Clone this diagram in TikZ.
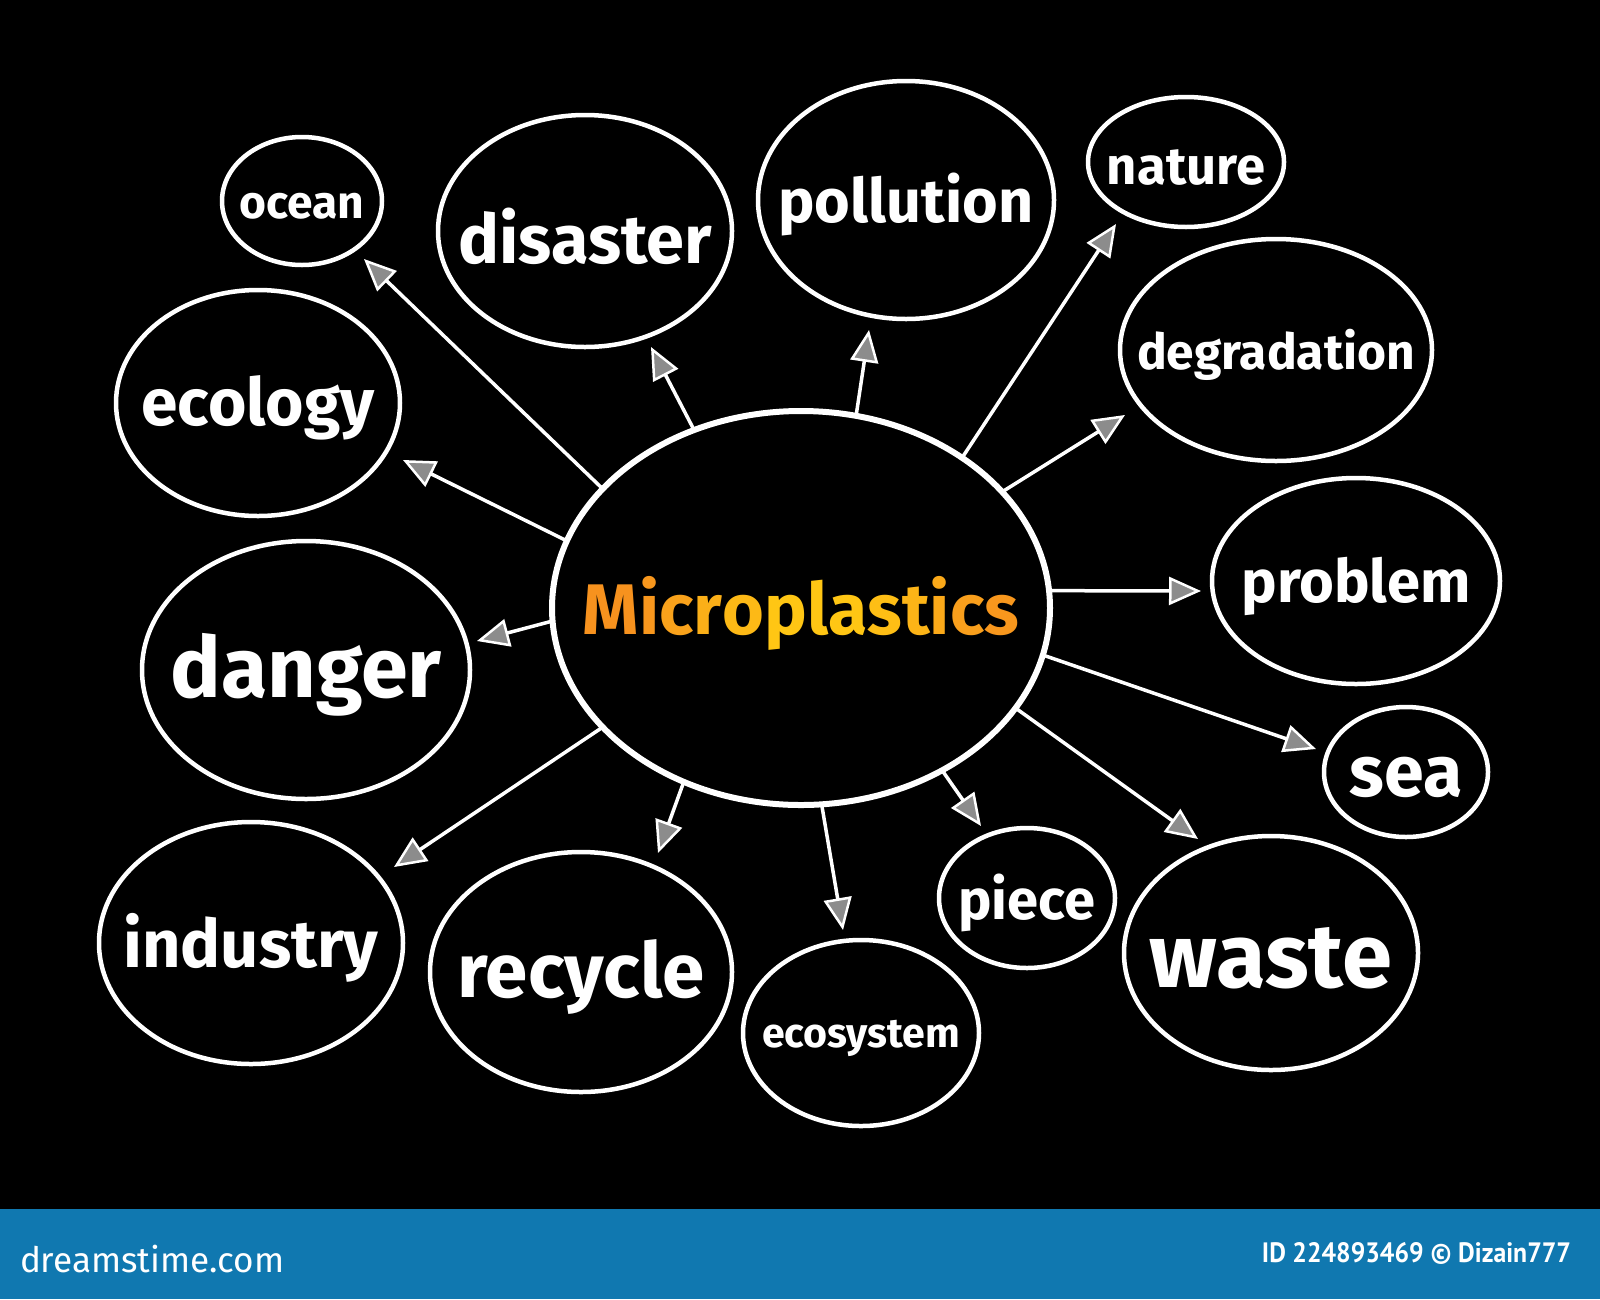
\documentclass[tikz,border=0pt]{standalone}
\usepackage{fontspec}
\usepackage{graphicx}
\setmainfont{Fira Sans}
\newfontfamily\footfont{PT Sans}
\usetikzlibrary{shapes.geometric,arrows.meta}
\definecolor{bar}{RGB}{16,120,176}
\definecolor{orA}{RGB}{247,146,30}
\definecolor{orB}{RGB}{255,198,20}
\newcommand\wordbox[2]{\resizebox{#1pt}{!}{\bfseries #2}}
\tikzset{
  bubble/.style={ellipse, draw=white, line width=4.5pt, fill=black, inner sep=0pt, outer sep=0pt},
  word/.style={text=white, inner sep=0pt, outer sep=0pt, yshift=-5pt},
  hub/.style={ellipse, draw=white, line width=6pt, fill=black, inner sep=0pt, outer sep=0pt, minimum width=498pt, minimum height=394pt},
  link/.style={draw=white, line width=3.5pt, line cap=round,
    -{Triangle[length=32pt,width=28pt,fill=black!45,color=white,line width=2.5pt]}},
  foot/.style={text=white, inner sep=0pt, outer sep=0pt}
}
\begin{document}
\begin{tikzpicture}[x=1pt,y=-1pt]
\useasboundingbox (0,0) rectangle (1600,1299);
\fill[black] (0,0) rectangle (1600,1209);
\fill[bar] (0,1209) rectangle (1600,1299);

% hub
\node[hub, label={[word]center:{\resizebox{436pt}{!}{\bfseries
  \textcolor{orA}{M}\textcolor{orA!90!orB}{i}\textcolor{orA!70!orB}{c}\textcolor{orA!45!orB}{r}\textcolor{orA!25!orB}{o}\textcolor{orB}{p}\textcolor{orB}{l}\textcolor{orB}{a}\textcolor{orA!15!orB}{s}\textcolor{orA!35!orB}{t}\textcolor{orA!55!orB}{i}\textcolor{orA!75!orB}{c}\textcolor{orA!90!orB}{s}}}}] (mp) at (801,608) {};

% bubbles
\node[bubble, minimum width=160pt, minimum height=128pt, label={[word]center:\wordbox{125}{ocean}}] (ocean) at (302,201) {};
\node[bubble, minimum width=294pt, minimum height=232pt, label={[word]center:\wordbox{253}{disaster}}] (disaster) at (585,231) {};
\node[bubble, minimum width=296pt, minimum height=238pt, label={[word]center:\wordbox{255}{pollution}}] (pollution) at (906,200) {};
\node[bubble, minimum width=196pt, minimum height=130pt, label={[word]center:\wordbox{158}{nature}}] (nature) at (1186,162) {};
\node[bubble, minimum width=312pt, minimum height=222pt, label={[word]center:\wordbox{278}{degradation}}] (degradation) at (1276,350) {};
\node[bubble, minimum width=284pt, minimum height=226pt, label={[word]center:\wordbox{233}{ecology}}] (ecology) at (258,403) {};
\node[bubble, minimum width=288pt, minimum height=206pt, label={[word]center:\wordbox{229}{problem}}] (problem) at (1356,581) {};
\node[bubble, minimum width=328pt, minimum height=258pt, label={[word]center:\wordbox{271}{danger}}] (danger) at (306,670) {};
\node[bubble, minimum width=164pt, minimum height=130pt, label={[word]center:\wordbox{113}{sea}}] (sea) at (1406,772) {};
\node[bubble, minimum width=304pt, minimum height=242pt, label={[word]center:\wordbox{255}{industry}}] (industry) at (251,943) {};
\node[bubble, minimum width=302pt, minimum height=240pt, label={[word]center:\wordbox{247}{recycle}}] (recycle) at (581,972) {};
\node[bubble, minimum width=236pt, minimum height=186pt, label={[word]center:\wordbox{198}{ecosystem}}] (ecosystem) at (861,1033) {};
\node[bubble, minimum width=176pt, minimum height=140pt, label={[word]center:\wordbox{137}{piece}}] (piece) at (1027,898) {};
\node[bubble, minimum width=294pt, minimum height=234pt, label={[word]center:\wordbox{242}{waste}}] (waste) at (1271,953) {};

% arrow tips
\coordinate (tocean) at (364,259);
\coordinate (tdisaster) at (651,347);
\coordinate (tpollution) at (869,330);
\coordinate (tnature) at (1116,224);
\coordinate (tdegradation) at (1125,415);
\coordinate (tproblem) at (1201,591);
\coordinate (tsea) at (1316,749);
\coordinate (twaste) at (1198,839);
\coordinate (tpiece) at (981,826);
\coordinate (tecosystem) at (843,930);
\coordinate (trecycle) at (658,853);
\coordinate (tindustry) at (394,867);
\coordinate (tdanger) at (477,641);
\coordinate (tecology) at (403,460);

\draw[link] (mp.149) -- (tocean);
\draw[link] (mp.121) -- (tdisaster);
\draw[link] (mp.74) -- (tpollution);
\draw[link] (mp.43) -- (tnature);
\draw[link] (mp.30) -- (tdegradation);
\draw[link] (mp.4) -- (tproblem);
\draw[link] (mp.349) -- (tsea);
\draw[link] (mp.335) -- (twaste);
\draw[link] (mp.311) -- (tpiece);
\draw[link] (mp.276) -- (tecosystem);
\draw[link] (mp.236) -- (trecycle);
\draw[link] (mp.211) -- (tindustry);
\draw[link] (mp.183) -- (tdanger);
\draw[link] (mp.164) -- (tecology);

% footer
\node[foot, anchor=west] (site) at (20,1259) {\resizebox{264pt}{!}{dreamstime.com}};
\node[foot, anchor=east] (credit) at (1571,1253) {\resizebox{309pt}{20pt}{\footfont\bfseries ID 224893469 © Dizain777}};
\end{tikzpicture}
\end{document}
